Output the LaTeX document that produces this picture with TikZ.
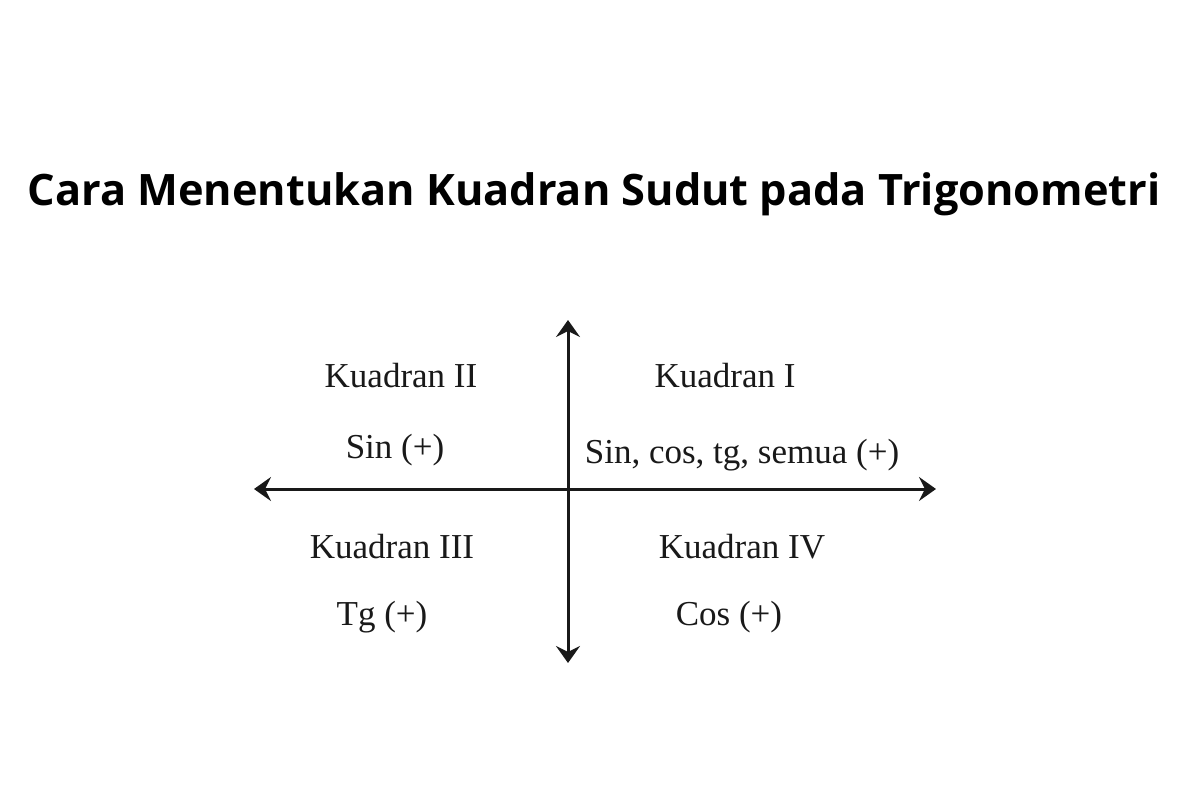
\documentclass[tikz,border=0pt]{standalone}
\usepackage{fontspec}
\setmainfont{Liberation Serif}
\newfontfamily\titlefont{Open Sans}
\usetikzlibrary{arrows.meta}
\tikzset{
  lbl/.style={anchor=base, inner sep=0pt, font=\fontsize{35}{40}\selectfont, text=black!90},
  axis/.style={line width=3pt, black!90, {Stealth[length=17pt,width=24pt,inset=6pt]}-{Stealth[length=17pt,width=24pt,inset=6pt]}},
}
\begin{document}
\begin{tikzpicture}[x=1pt,y=-1pt]
\useasboundingbox[fill=white] (0,0) rectangle (1200,800);
\node[anchor=base, inner sep=0pt, font=\titlefont\bfseries\fontsize{43.3}{48}\selectfont] (title) at (594,205) {Cara Menentukan Kuadran Sudut pada Trigonometri};
\coordinate (L) at (254,489);
\coordinate (R) at (936,489);
\coordinate (T) at (568,320);
\coordinate (B) at (568,663);
\draw[axis] (L) -- (R);
\draw[axis] (B) -- (T);
\node[lbl] (q2) at (401,387) {Kuadran II};
\node[lbl] (q1) at (725,387) {Kuadran I};
\node[lbl] (s2) at (395,458) {Sin (+)};
\node[lbl] (s1) at (742,463) {Sin, cos, tg, semua (+)};
\node[lbl] (q3) at (392,558) {Kuadran III};
\node[lbl] (q4) at (742,558) {Kuadran IV};
\node[lbl] (s3) at (382,625) {Tg (+)};
\node[lbl] (s4) at (729,625) {Cos (+)};
\end{tikzpicture}
\end{document}
